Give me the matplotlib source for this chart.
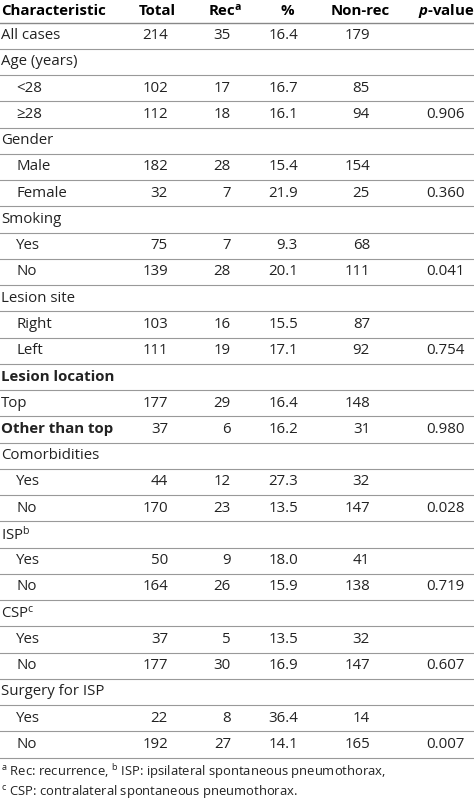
import matplotlib.pyplot as plt

plt.rcParams["font.family"] = ["Open Sans", "DejaVu Sans"]
plt.rcParams["mathtext.fontset"] = "custom"
plt.rcParams["mathtext.it"] = "Open Sans:italic:bold"

labels = ["All cases", "Age (years)", "<28", "≥28", "Gender", "Male", "Female",
          "Smoking", "Yes", "No", "Lesion site", "Right", "Left",
          "Lesion location", "Top", "Other than top", "Comorbidities", "Yes", "No",
          "ISP$^{\\mathregular{b}}$", "Yes", "No", "CSP$^{\\mathregular{c}}$", "Yes", "No",
          "Surgery for ISP", "Yes", "No"]
indent = [0, 0, 1, 1, 0, 1, 1, 0, 1, 1, 0, 1, 1, 0, 0, 0, 0, 1, 1, 0, 1, 1, 0, 1, 1, 0, 1, 1]
bold = {"Lesion location", "Other than top"}
total = ["214", "", "102", "112", "", "182", "32", "", "75", "139", "", "103", "111",
         "", "177", "37", "", "44", "170", "", "50", "164", "", "37", "177", "", "22", "192"]
rec = ["35", "", "17", "18", "", "28", "7", "", "7", "28", "", "16", "19",
       "", "29", "6", "", "12", "23", "", "9", "26", "", "5", "30", "", "8", "27"]
pct = ["16.4", "", "16.7", "16.1", "", "15.4", "21.9", "", "9.3", "20.1", "", "15.5", "17.1",
       "", "16.4", "16.2", "", "27.3", "13.5", "", "18.0", "15.9", "", "13.5", "16.9", "", "36.4", "14.1"]
nonrec = ["179", "", "85", "94", "", "154", "25", "", "68", "111", "", "87", "92",
          "", "148", "31", "", "32", "147", "", "41", "138", "", "32", "147", "", "14", "165"]
pval = ["", "", "", "0.906", "", "", "0.360", "", "", "0.041", "", "", "0.754",
        "", "", "0.980", "", "", "0.028", "", "", "0.719", "", "", "0.607", "", "", "0.007"]

W, H = 474, 808
fig = plt.figure(figsize=(W / 100, H / 100), dpi=100)
ax = fig.add_axes([0, 0, 1, 1])
ax.set_xlim(0, W)
ax.set_ylim(H, 0)
ax.axis("off")

fs = 10.8
col_x = [168, 231, 298, 370, 465]
head_y = 11
ax.text(1, head_y, "Characteristic", fontsize=fs, fontweight="bold", va="center")
for x, h in zip([157, 225, 287, 360], ["Total", "Rec$^{\\mathregular{a}}$", "%", "Non-rec"]):
    ax.text(x, head_y, h, fontsize=fs, fontweight="bold", va="center", ha="center")
ax.text(474, head_y, "$\\mathit{p}$-value", fontsize=fs, fontweight="bold",
        va="center", ha="right")

top = 22.5
step = 26.25
ax.axhline(top, color="#888888", lw=1.0)
for i, lab in enumerate(labels):
    yc = top + step * (i + 0.5)
    ax.text(1 + 15 * indent[i], yc, lab, fontsize=fs, va="center",
            fontweight="bold" if lab in bold else "normal", color="#222222")
    for x, col in zip(col_x, [total, rec, pct, nonrec, pval]):
        ax.text(x, yc, col[i], fontsize=fs, va="center", ha="right", color="#222222")
    ax.axhline(top + step * (i + 1), color="#999999", lw=0.8)

ax.text(1, 772, "$^{\\mathregular{a}}$ Rec: recurrence, $^{\\mathregular{b}}$ ISP: ipsilateral spontaneous pneumothorax,",
        fontsize=9.4, va="center", color="#222222")
ax.text(1, 791, "$^{\\mathregular{c}}$ CSP: contralateral spontaneous pneumothorax.",
        fontsize=9.4, va="center", color="#222222")

fig.savefig("out.png", dpi=100)
